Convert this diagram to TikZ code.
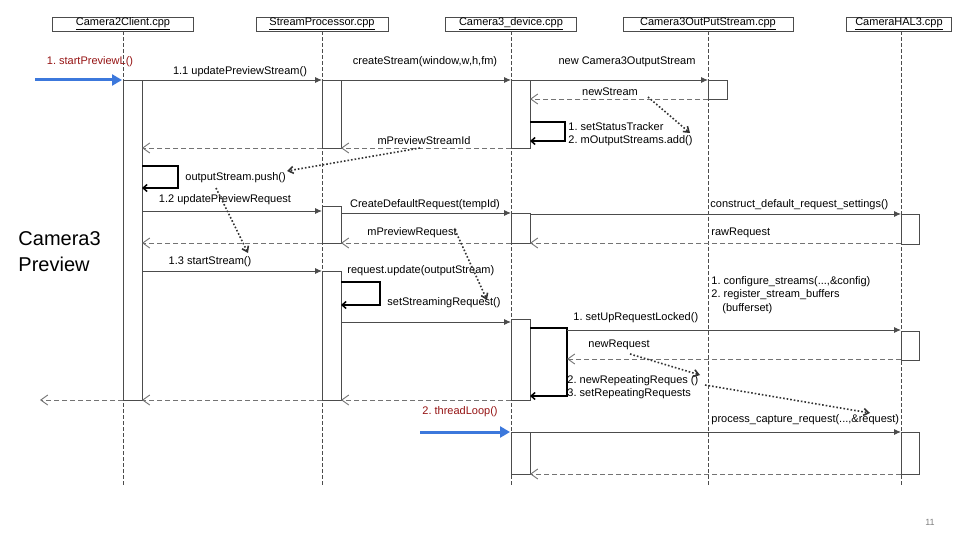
\documentclass[tikz,border=0pt]{standalone}
\usepackage{fontspec}
\setmainfont{Liberation Sans}
\usetikzlibrary{arrows.meta}
\definecolor{dred}{RGB}{150,20,20}
\definecolor{lblue}{RGB}{60,120,220}
\frenchspacing
\begin{document}
\begin{tikzpicture}[x=1pt,y=-1pt,line width=0.9pt,
 txt/.style={font=\fontsize{11}{13.5}\selectfont,inner sep=0pt},
 hdr/.style={draw=black!70,minimum height=14pt,inner sep=0pt,font=\fontsize{11}{12}\selectfont},
 life/.style={draw=black!70,dashed,dash pattern=on 4pt off 2pt},
 act/.style={draw=black!70,fill=white},
 msg/.style={draw=black!70,-{Latex[length=7pt,width=6pt]}},
 ret/.style={draw=black!55,dashed,dash pattern=on 5pt off 3pt,-{Straight Barb[length=7pt,width=10pt]}},
 self/.style={draw=black,line width=1.5pt,-{Straight Barb[length=4pt,width=7pt]}},
 note/.style={draw=black!80,dotted,line width=1.6pt,-{Straight Barb[length=5pt,width=7pt]}},
 blue/.style={draw=lblue,line width=3pt,-{Triangle[length=10pt,width=11pt]}},
 red/.style={txt,text=dred}]
\useasboundingbox (0,0) rectangle (960,540);
\fill[white] (0,0) rectangle (960,540);
% headers
\node[hdr,minimum width=141pt] (h1) at (123,24) {\underline{Camera2Client.cpp}};
\node[hdr,minimum width=132pt] (h2) at (322,24) {\underline{StreamProcessor.cpp}};
\node[hdr,minimum width=131pt] (h3) at (511,24) {\underline{Camera3\_device.cpp}};
\node[hdr,minimum width=170pt] (h4) at (708,24) {\underline{Camera3OutPutStream.cpp}};
\node[hdr,minimum width=105pt] (h5) at (899,24) {\underline{CameraHAL3.cpp}};
\foreach \n/\x in {h1/123,h2/322,h3/511,h4/708,h5/901}
  \draw[life] (\n.south -| \x,0) -- (\x,486);
% activations
\draw[act] (123,80) rectangle (142,400);
\draw[act] (322,80) rectangle (341,148);
\draw[act] (322,206) rectangle (341,243);
\draw[act] (322,271) rectangle (341,400);
\draw[act] (511,80) rectangle (530,148);
\draw[act] (511,213) rectangle (530,243);
\draw[act] (511,319) rectangle (530,400);
\draw[act] (511,432) rectangle (530,474);
\draw[act] (708,80) rectangle (727,99);
\draw[act] (901,214) rectangle (919,244);
\draw[act] (901,331) rectangle (919,360);
\draw[act] (901,432) rectangle (919,474);
% blue entries
\coordinate (b1s) at (35,80); \coordinate (b1e) at (122,80);
\draw[blue] (b1s) -- (b1e);
\node[red] (l0) at (90,62) {\textcolor{dred}{1. startPreviewL()}};
\coordinate (b2s) at (420,432); \coordinate (b2e) at (510,432);
\draw[blue] (b2s) -- (b2e);
\node[red] (l0b) at (460,412) {\textcolor{dred}{2. threadLoop()}};
% messages
\draw[msg] (142,80) -- (322,80);
\node[txt] (m1) at (240,72) {1.1 updatePreviewStream()};
\draw[msg] (341,80) -- (511,80);
\node[txt] (m2) at (425,62) {createStream(window,w,h,fm)};
\draw[msg] (530,80) -- (708,80);
\node[txt] (m3) at (627,62) {new Camera3OutputStream};
\draw[ret] (708,99) -- (530,99);
\node[txt] (m4) at (610,92) {newStream};
\draw[self] (530,122) -- (565,122) -- (565,141) -- (530,141);
\node[txt,anchor=west,align=left] (m5) at (568,134) {1. setStatusTracker\\2. mOutputStreams.add()};
\draw[ret] (511,148) -- (341,148);
\draw[ret] (322,148) -- (142,148);
\node[txt] (m6) at (424,141) {mPreviewStreamId};
\draw[self] (142,166) -- (178,166) -- (178,188) -- (142,188);
\node[txt,anchor=west] (m7) at (185,178) {outputStream.push()};
\draw[msg] (142,211) -- (322,211);
\node[txt] (m8) at (225,200) {1.2 updatePreviewRequest};
\draw[msg] (341,213) -- (511,213);
\node[txt] (m9) at (425,205) {CreateDefaultRequest(tempId)};
\draw[msg] (530,214) -- (901,214);
\node[txt,anchor=west] (m10) at (710,205) {construct\_default\_request\_settings()};
\draw[ret] (901,243) -- (530,243);
\node[txt,anchor=west] (m11) at (711,233) {rawRequest};
\draw[ret] (511,243) -- (341,243);
\draw[ret] (322,243) -- (142,243);
\node[txt] (m12) at (412,233) {mPreviewRequest};
\draw[msg] (142,271) -- (322,271);
\node[txt] (m13) at (210,262) {1.3 startStream()};
\node[txt,anchor=west] (m14) at (347,271) {request.update(outputStream)};
\draw[self] (341,282) -- (380,282) -- (380,305) -- (341,305);
\node[txt,anchor=west] (m15) at (387,303) {setStreamingRequest()};
\draw[msg] (341,322) -- (511,322);
\draw[self] (530,328) -- (567,328) -- (567,396) -- (530,396);
\node[txt,anchor=west] (m16) at (573,318) {1. setUpRequestLocked()};
\draw[msg] (567,330) -- (901,330);
\draw[ret] (901,359) -- (567,359);
\node[txt,anchor=west] (m17) at (588,345) {newRequest};
\node[txt,anchor=west,align=left] (m18) at (567,387) {2. newRepeatingReques ()\\3. setRepeatingRequests};
\node[txt,anchor=west,align=left] (m19) at (711,295) {1. configure\_streams(...,\&config)\\2. register\_stream\_buffers\\\hspace*{11pt}(bufferset)};
\draw[ret] (511,400) -- (341,400);
\draw[ret] (322,400) -- (142,400);
\draw[ret] (123,400) -- (40,400);
\draw[msg] (530,432) -- (901,432);
\node[txt,anchor=west] (m20) at (711,420) {process\_capture\_request(...,\&request)};
\draw[ret] (901,474) -- (530,474);
% dotted notes
\coordinate (n1) at (690,133);
\draw[note] (648,97) -- (n1);
\coordinate (n2) at (287,171);
\draw[note] (420,148) -- (n2);
\coordinate (n3) at (248,253);
\draw[note] (216,188) -- (n3);
\coordinate (n4) at (487,300);
\draw[note] (455,230) -- (n4);
\coordinate (n5) at (700,375);
\draw[note] (630,354) -- (n5);
\coordinate (n6) at (870,413);
\draw[note] (705,385) -- (n6);
% title
\node[font=\fontsize{20}{26}\selectfont,align=left,anchor=west,inner sep=0pt] (t) at (18,252) {Camera3\\Preview};
\node[font=\fontsize{9}{10}\selectfont,text=black!50] (pg) at (930,522) {11};
\end{tikzpicture}
\end{document}
